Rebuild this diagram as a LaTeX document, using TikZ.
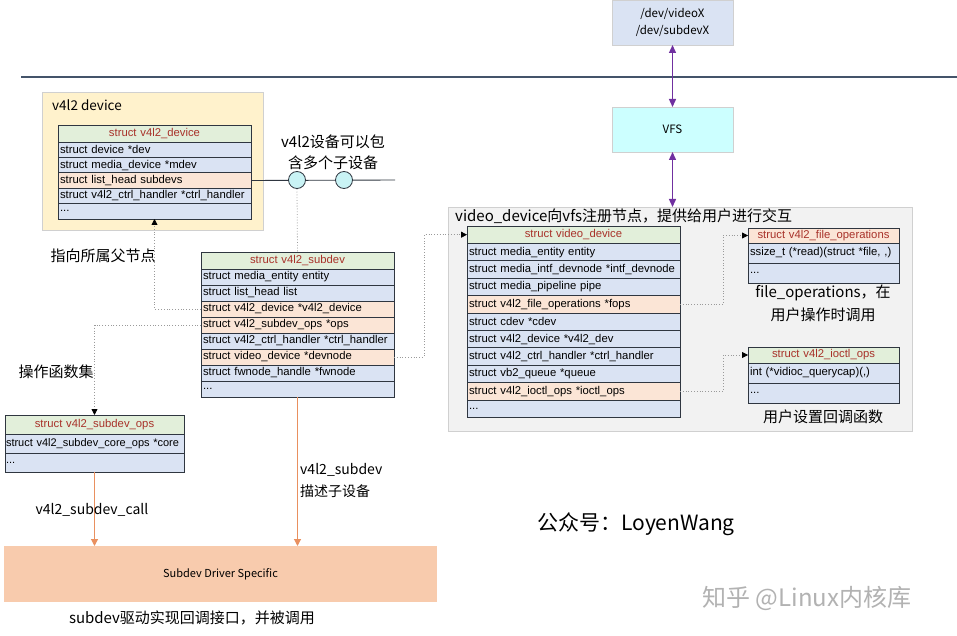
\documentclass[tikz,border=0pt]{standalone}
\usepackage{fontspec}
\setmainfont{Noto Sans CJK SC}
\newfontfamily\tabfont{Liberation Sans}
\usetikzlibrary{arrows.meta}
\definecolor{tabline}{HTML}{2F3640}
\definecolor{hdrgreen}{HTML}{E2EFDA}
\definecolor{hdrred}{HTML}{A8322A}
\definecolor{rowblue}{HTML}{DAE3F3}
\definecolor{rowpeach}{HTML}{FBE5D6}
\definecolor{yellowbg}{HTML}{FFF2CC}
\definecolor{graybg}{HTML}{F2F2F2}
\definecolor{boxedge}{HTML}{D0D0D0}
\definecolor{cyanbg}{HTML}{CCFFFF}
\definecolor{purp}{HTML}{7030A0}
\definecolor{orangeln}{HTML}{E9905F}
\definecolor{driverbg}{HTML}{F8CBAD}
\definecolor{topln}{HTML}{44546A}
\definecolor{dotgray}{HTML}{9A9A9A}
\definecolor{circfill}{HTML}{C9F3F5}
\tikzset{
  tabbase/.style={draw=tabline, line width=0.9pt, anchor=north west, outer sep=0pt,
    inner xsep=2pt, inner ysep=0pt, font=\tabfont\fontsize{11.3}{12}\selectfont, align=left},
  hdr/.style={fill=hdrgreen, text=hdrred, align=center},
  hdrp/.style={fill=rowpeach, text=hdrred, align=center},
  rb/.style={fill=rowblue},
  rp/.style={fill=rowpeach},
  dv/.style={tabbase, minimum width=193pt, text width=189pt, minimum height=15.4pt},
  sdv/.style={tabbase, minimum width=193pt, text width=189pt, minimum height=16pt},
  opv/.style={tabbase, minimum width=179pt, text width=177pt, inner xsep=1pt, minimum height=19pt,
    font=\tabfont\fontsize{11}{12}\selectfont},
  vdv/.style={tabbase, minimum width=213pt, text width=209pt, minimum height=17.4pt},
  fov/.style={tabbase, minimum width=151pt, text width=147pt, minimum height=20pt},
  areabox/.style={anchor=north west, outer sep=0pt, draw=boxedge, line width=0.8pt},
  lbl/.style={font=\fontsize{15}{21}\selectfont, align=center, inner sep=0pt},
  dotln/.style={draw=dotgray, dotted, line width=0.8pt},
  dotarr/.style={dotln, -{Triangle[width=6pt,length=6pt,color=black,fill=black]}},
  parr/.style={draw=purp, line width=1.3pt, {Triangle[width=7pt,length=8pt]}-{Triangle[width=7pt,length=8pt]}},
  oarr/.style={draw=orangeln, line width=1.1pt, -{Triangle[width=7pt,length=7pt]}},
  circ/.style={circle, draw=tabline, line width=0.8pt, fill=circfill, minimum size=17pt, inner sep=0pt}
}
\begin{document}
\begin{tikzpicture}[x=1pt,y=-1pt]
\useasboundingbox (0,0) rectangle (957,636);
\fill[white] (0,0) rectangle (957,636);

% top separator line
\coordinate (tl) at (21,77);
\coordinate (tr) at (957,77);
\draw[topln, line width=1.2pt] (tl) -- (tr);

% background areas
\node[areabox, fill=yellowbg, minimum width=221pt, minimum height=138pt] (devarea) at (42,92) {};
\node[anchor=west, font=\fontsize{13.5}{15}\selectfont, inner sep=0pt] (devlbl) at (52,105) {v4l2 device};

\node[areabox, fill=graybg, minimum width=464pt, minimum height=224pt] (garea) at (448,207) {};
\node[anchor=west, font=\fontsize{15}{17}\selectfont, inner sep=0pt] (glbl) at (455,216) {video\_device向vfs注册节点，提供给用户进行交互};

\node[areabox, fill=rowblue, minimum width=121pt, minimum height=45pt, align=center,
  font=\fontsize{11.5}{17}\selectfont] (devx) at (612,0) {/dev/videoX\\/dev/subdevX};
\node[areabox, fill=cyanbg, minimum width=121pt, minimum height=45pt,
  font=\fontsize{11.5}{13}\selectfont] (vfs) at (612,107) {VFS};

\node[anchor=north west, outer sep=0pt, fill=driverbg, minimum width=433pt, minimum height=56pt,
  font=\fontsize{11}{12}\selectfont] (drv) at (4,546) {Subdev Driver Specific};

% struct v4l2_device
\node[dv,hdr,minimum height=17pt] (d0) at (58,125) {struct v4l2\_device};
\node[dv,rb] (d1) at (d0.south west) {struct device *dev};
\node[dv,rb] (d2) at (d1.south west) {struct media\_device *mdev};
\node[dv,rp] (d3) at (d2.south west) {struct list\_head subdevs};
\node[dv,rb] (d4) at (d3.south west) {struct v4l2\_ctrl\_handler *ctrl\_handler};
\node[dv,rb] (d5) at (d4.south west) {...};

% struct v4l2_subdev
\node[sdv,hdr,minimum height=17pt] (s0) at (201,252) {struct v4l2\_subdev};
\node[sdv,rb] (s1) at (s0.south west) {struct media\_entity entity};
\node[sdv,rb] (s2) at (s1.south west) {struct list\_head list};
\node[sdv,rp] (s3) at (s2.south west) {struct v4l2\_device *v4l2\_device};
\node[sdv,rp] (s4) at (s3.south west) {struct v4l2\_subdev\_ops *ops};
\node[sdv,rb] (s5) at (s4.south west) {struct v4l2\_ctrl\_handler *ctrl\_handler};
\node[sdv,rp] (s6) at (s5.south west) {struct video\_device *devnode};
\node[sdv,rb] (s7) at (s6.south west) {struct fwnode\_handle *fwnode};
\node[sdv,rb] (s8) at (s7.south west) {...};

% struct v4l2_subdev_ops
\node[opv,hdr,font=\tabfont\fontsize{11.3}{12}\selectfont] (o0) at (5,415) {struct v4l2\_subdev\_ops};
\node[opv,rb] (o1) at (o0.south west) {struct v4l2\_subdev\_core\_ops *core};
\node[opv,rb] (o2) at (o1.south west) {...};

% struct video_device
\node[vdv,hdr] (v0) at (467,226) {struct video\_device};
\node[vdv,rb] (v1) at (v0.south west) {struct media\_entity entity};
\node[vdv,rb] (v2) at (v1.south west) {struct media\_intf\_devnode *intf\_devnode};
\node[vdv,rb] (v3) at (v2.south west) {struct media\_pipeline pipe};
\node[vdv,rp] (v4) at (v3.south west) {struct v4l2\_file\_operations *fops};
\node[vdv,rb] (v5) at (v4.south west) {struct cdev *cdev};
\node[vdv,rb] (v6) at (v5.south west) {struct v4l2\_device *v4l2\_dev};
\node[vdv,rb] (v7) at (v6.south west) {struct v4l2\_ctrl\_handler *ctrl\_handler};
\node[vdv,rb] (v8) at (v7.south west) {struct vb2\_queue *queue};
\node[vdv,rp] (v9) at (v8.south west) {struct v4l2\_ioctl\_ops *ioctl\_ops};
\node[vdv,rb] (v10) at (v9.south west) {...};

% struct v4l2_file_operations
\node[fov,hdrp,minimum height=15pt] (f0) at (748,228) {struct v4l2\_file\_operations};
\node[fov,rb] (f1) at (f0.south west) {ssize\_t (*read)(struct *file, ,)};
\node[fov,rb] (f2) at (f1.south west) {...};

% struct v4l2_ioctl_ops
\node[fov,hdr,minimum height=16pt] (i0) at (748,347) {struct v4l2\_ioctl\_ops};
\node[fov,rb] (i1) at (i0.south west) {int (*vidioc\_querycap)(,)};
\node[fov,rb] (i2) at (i1.south west) {...};

% subdevs list with circles
\coordinate (lend) at (395,180);
\draw[tabline, line width=0.9pt] (d3.east) -- (lend);
\node[circ] (c1) at (297,180) {};
\node[circ] (c2) at (344,180) {};
\draw[dotln] (c1.south) -- (s0.north);

% dotted pointers
\draw[dotarr] (s3.west) -| (d5.south);
\draw[dotarr] (s4.west) -| (o0.north);
\draw[dotarr] (s6.east) -- ++(30,0) |- (v0.west);
\draw[dotarr] (v4.east) -- ++(43,0) |- (f0.west);
\draw[dotarr] (v9.east) -- ++(43,0) |- (i0.west);

% purple arrows
\draw[parr] (devx.south) -- (vfs.north);
\draw[parr] (vfs.south) -- (vfs.south |- garea.north);

% orange arrows
\draw[oarr] (o2.south) -- (o2.south |- drv.north);
\draw[oarr] (s8.south) -- (s8.south |- drv.north);

% labels
\node[lbl] (t1) at (333,152) {v4l2设备可以包\\含多个子设备};
\node[lbl] (t2) at (103,256) {指向所属父节点};
\node[lbl] (t3) at (56,372) {操作函数集};
\node[lbl, font=\fontsize{14}{16}\selectfont] (t4) at (92,510) {v4l2\_subdev\_call};
\node[lbl, anchor=west, align=left, font=\fontsize{14}{22}\selectfont] (t5) at (300,481) {v4l2\_subdev\\描述子设备};
\node[lbl] (t6) at (192,618) {subdev驱动实现回调接口，并被调用};
\node[lbl, font=\fontsize{15}{23}\selectfont] (t7) at (823,303) {file\_operations，在\\用户操作时调用};
\node[lbl] (t8) at (823,417) {用户设置回调函数};
\node[lbl, anchor=west, font=\fontsize{21}{24}\selectfont] (t9) at (537,524) {公众号：LoyenWang};
\node[lbl, text=black!30, font=\fontsize{24}{28}\selectfont] (t10) at (807,598) {知乎 @Linux内核库};
\end{tikzpicture}
\end{document}
